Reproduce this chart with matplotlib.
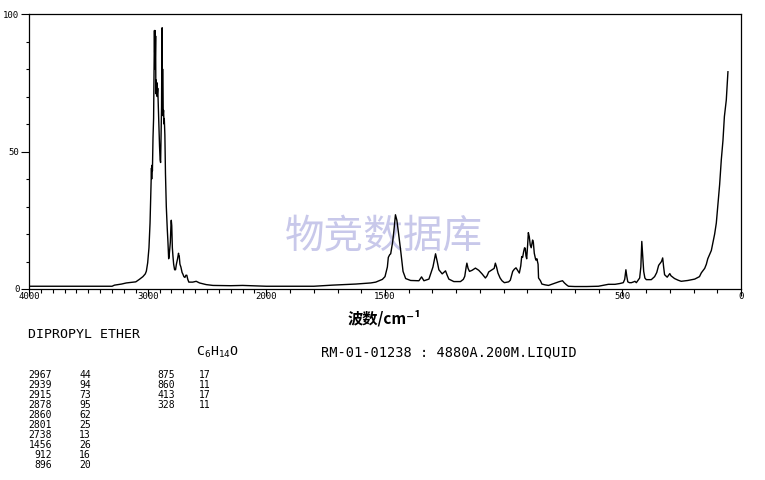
import numpy as np
import matplotlib
matplotlib.use("Agg")
import matplotlib.pyplot as plt
from matplotlib.ticker import FixedLocator, MultipleLocator

# ---------------- data ----------------
wavenumber = [4000, 3300, 3280, 3220, 3180, 3100, 3070, 3040, 3020, 3011, 3000, 2989, 2980, 2975,
              2970, 2968, 2966, 2963, 2960, 2955, 2950, 2945, 2943, 2941, 2939, 2937, 2933, 2931,
              2929, 2925, 2922, 2920, 2915, 2910, 2905, 2900, 2895, 2891, 2887, 2883, 2880, 2878,
              2876, 2874, 2870, 2866, 2862, 2860, 2855, 2850, 2843, 2835, 2829, 2823, 2819, 2815,
              2809, 2803, 2801, 2797, 2792, 2787, 2781,
              2773, 2765, 2758, 2748, 2740, 2737, 2734, 2728, 2720, 2710, 2703, 2695, 2686, 2678, 2670,
              2662, 2653, 2620, 2591, 2563, 2507, 2450, 2300, 2200, 2000, 1800, 1723, 1623, 1560,
              1539, 1511, 1500, 1490, 1486, 1480, 1476, 1468, 1462, 1456, 1450, 1444, 1434, 1424,
              1413, 1392, 1357, 1346, 1336, 1315, 1298, 1287, 1280, 1273, 1259, 1245, 1238, 1231,
              1210, 1182, 1170, 1164, 1158, 1155, 1150, 1144, 1133, 1119, 1105, 1091, 1077, 1070,
              1063, 1049, 1040, 1035, 1030, 1024, 1015, 1007, 997, 979, 972, 962, 955, 948, 940,
              934, 928, 924, 920, 916, 912, 909, 906, 903, 899, 896, 892, 888, 884, 878, 875, 871,
              866, 864, 860, 855, 853, 845, 839, 825, 811, 795, 783, 765, 752, 744, 735, 727, 700,
              650, 601, 559, 531, 510, 496, 490, 485, 481, 477, 470, 462, 452, 447, 441, 427, 422,
              418, 414, 410, 405, 399, 378, 364, 355, 347, 335, 330, 326, 322, 311, 305, 300, 295,
              280, 265, 252, 224, 195, 175, 167, 153, 146, 140, 125, 118, 111, 104, 97, 90, 83, 76,
              70, 62, 55]
intensity = [1.0, 1.0, 1.4, 1.8, 2.2, 2.6, 3.5, 4.5, 5.5, 6.5, 9.5, 15, 24, 32,
             41, 44, 40, 45, 43, 55, 62, 88, 94, 86, 94, 80, 92, 71,
             76, 72, 75, 70, 73, 66, 58, 52, 47, 46, 55, 66, 90, 95,
             65, 80, 63, 65, 60, 62, 56, 42, 30, 22, 17, 11, 12, 14,
             17, 24, 25, 23, 15, 12, 9,
             7, 7, 9, 11, 13, 12, 12, 9, 8, 6, 5.4, 4.5, 4.2, 5, 5,
             3.5, 2.5, 2.5, 2.8, 2.2, 1.6, 1.3, 1.2, 1.3, 1.0, 1.0, 1.4, 1.8, 2.2,
             2.5, 3.5, 4.5, 8, 11.5, 12.5, 12.8, 17, 21.6, 27, 25, 21, 14, 6.4,
             3.8, 3.1, 3.0, 4.4, 3.0, 3.6, 8, 12.8, 10, 7, 5.5, 6.6, 5, 3.6,
             2.7, 2.7, 3.5, 4.6, 8, 9.4, 7.5, 6.4, 6.8, 7.6, 6.8, 5.5, 4.0, 4.8,
             6.2, 7, 7.5, 9.4, 8, 5.8, 4, 3, 2.3, 2.6, 3.2, 6.4, 7.2, 7.7, 6.6,
             5.8, 8.4, 11.8, 11.5, 13.5, 15, 14.8, 12, 11, 16, 20.5, 19, 16, 15, 17.8, 17, 13,
             11, 10.5, 11, 9, 4, 3, 1.8, 1.5, 1.3, 1.8, 2.2, 2.7, 3.0, 2.2, 1.5, 1.0, 0.9,
             0.9, 1.0, 1.7, 1.7, 2.0, 2.3, 3.5, 7, 4.5, 2.6, 2.3, 2.3, 2.6, 2.8, 2.3, 4, 8,
             17.3, 12, 6.4, 4, 3.4, 3.4, 4.5, 6, 8.6, 10, 11.3, 8, 5.2, 4.3, 5.0, 5.6, 4.8,
             3.8, 3.2, 2.8, 3.1, 3.6, 4.5, 5.9, 7.5, 9, 11, 14, 17, 20, 24, 31, 38, 47, 54,
             62.7, 68.7, 79]

peak_wn_col1 = ["2967", "2939", "2915", "2878", "2860", "2801", "2738", "1456", "912", "896"]
peak_int_col1 = ["44", "94", "73", "95", "62", "25", "13", "26", "16", "20"]
peak_wn_col2 = ["875", "860", "413", "328"]
peak_int_col2 = ["17", "11", "17", "11"]

x_major = [4000, 3000, 2000, 1500, 500, 0]
x_major_labels = ["4000", "3000", "2000", "1500", "500", "0"]
y_major = [0, 50, 100]

compound = "DIPROPYL ETHER"
formula = r"C$_\mathregular{6}$H$_\mathregular{14}$O"
sample_info = "RM-01-01238 : 4880A.200M.LIQUID"
xlabel = "波数/cm⁻¹"
watermark = "物竞数据库"

# ---------------- figure ----------------
W, H = 765, 480
fig = plt.figure(figsize=(W / 100, H / 100), dpi=100)
L, R, T, B = 29, 741, 14, 289
ax = fig.add_axes([L / W, 1 - B / H, (R - L) / W, (B - T) / H])


def fwd(x):
    x = np.asarray(x, dtype=float)
    return np.where(x > 2000, 2000 + (x - 2000) / 2.0, x)


def bwd(y):
    y = np.asarray(y, dtype=float)
    return np.where(y > 2000, 2000 + (y - 2000) * 2.0, y)


ax.set_xscale("function", functions=(fwd, bwd))
ax.plot(wavenumber, intensity, color="black", lw=1.0, zorder=3)
ax.set_xlim(4000, 0)
ax.set_ylim(0, 100)

mono = "DejaVu Sans Mono"
ax.xaxis.set_major_locator(FixedLocator(x_major))
ax.set_xticklabels(x_major_labels, fontfamily=mono, fontsize=6.5)
ax.xaxis.set_minor_locator(FixedLocator(list(range(0, 4001, 100))))
ax.yaxis.set_major_locator(FixedLocator(y_major))
ax.set_yticklabels([str(v) for v in y_major], fontfamily=mono, fontsize=6.5)
ax.yaxis.set_minor_locator(MultipleLocator(10))
ax.tick_params(axis="x", which="major", direction="out", length=5, width=0.8, pad=-3)
ax.tick_params(axis="x", which="minor", direction="out", length=3, width=0.8)
ax.tick_params(axis="y", which="major", direction="out", length=6, width=0.8, pad=1)
ax.tick_params(axis="y", which="minor", direction="out", length=2.5, width=0.8)
for s in ax.spines.values():
    s.set_linewidth(0.9)

ax.text(0.498, 0.19, watermark, transform=ax.transAxes, ha="center", va="center",
        fontsize=28.5, color="#c8c8ea", family=["Noto Sans CJK SC", "DejaVu Sans"], zorder=1)


def ftext(px, py, s, **kw):
    fig.text(px / W, 1 - py / H, s, **kw)


ftext(384, 318, xlabel, ha="center", va="center", fontsize=11, fontweight="bold",
      family=["Noto Sans CJK SC", "DejaVu Sans"])
ftext(28, 334, compound, ha="left", va="center", fontsize=9.5, family=mono)
ftext(196, 352, formula, ha="left", va="center", fontsize=9.5, family=mono)
ftext(321, 352, sample_info, ha="left", va="center", fontsize=9.8, family=mono)

row0, dy = 374.5, 10.1
for i, (a, b) in enumerate(zip(peak_wn_col1, peak_int_col1)):
    ftext(52, row0 + i * dy, a, ha="right", va="center", fontsize=7, family=mono)
    ftext(91, row0 + i * dy, b, ha="right", va="center", fontsize=7, family=mono)
for i, (a, b) in enumerate(zip(peak_wn_col2, peak_int_col2)):
    ftext(175, row0 + i * dy, a, ha="right", va="center", fontsize=7, family=mono)
    ftext(211, row0 + i * dy, b, ha="right", va="center", fontsize=7, family=mono)

fig.savefig("out.png", dpi=100)
